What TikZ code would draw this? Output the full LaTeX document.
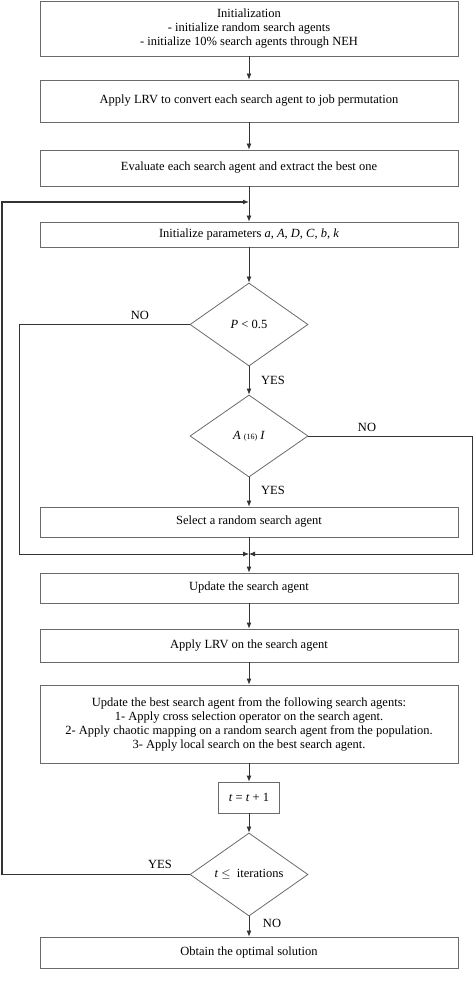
\documentclass[tikz,border=0pt]{standalone}
\usepackage{fontspec}
\setmainfont{Liberation Serif}
\usetikzlibrary{arrows.meta,shapes.geometric}
\definecolor{boxgray}{HTML}{6A6A6A}
\definecolor{linegray}{HTML}{333333}
\begin{document}
\begin{tikzpicture}[x=1pt,y=-1pt,
  box/.style={draw=boxgray, line width=0.8pt, minimum width=418pt, inner sep=0pt, align=center, font=\fontsize{12.5}{14}\selectfont},
  dia/.style={draw=boxgray, line width=0.8pt, diamond, minimum width=118pt, minimum height=83pt, inner sep=0pt, font=\fontsize{12.5}{14}\selectfont},
  conn/.style={draw=linegray, line width=0.8pt, -{Latex[length=6pt,width=5pt]}},
  plain/.style={draw=linegray, line width=0.8pt},
  lbl/.style={font=\fontsize{12.5}{14}\selectfont, inner sep=0pt}
]
\useasboundingbox (0,0) rectangle (474,984);
\node[box, minimum height=55pt] (b1) at (249,28.5) {Initialization\\- initialize random search agents\\- initialize 10\% search agents through NEH};
\node[box, minimum height=42pt] (b2) at (249,101) {Apply LRV to convert each search agent to job permutation};
\node[box, minimum height=36pt] (b3) at (249,168) {Evaluate each search agent and extract the best one};
\node[box, minimum height=25pt] (b4) at (249,234.5) {Initialize parameters \textit{a}, \textit{A}, \textit{D}, \textit{C}, \textit{b}, \textit{k}};
\node[dia] (d1) at (249,324.5) {\textit{P} < 0.5};
\node[dia, minimum height=82pt] (d2) at (249,436) {\textit{A} {\fontsize{8}{8}\selectfont(16)} \textit{I}};
\node[box, minimum height=30pt] (b5) at (249,522) {Select a random search agent};
\node[box, minimum height=30pt] (b6) at (249,588) {Update the search agent};
\node[box, minimum height=33pt] (b7) at (249,645.5) {Apply LRV on the search agent};
\node[box, minimum height=78pt] (b8) at (249,724) {Update the best search agent from the following search agents:\\1- Apply cross selection operator on the search agent.\\2- Apply chaotic mapping on a random search agent from the population.\\3- Apply local search on the best search agent.};
\node[box, minimum width=61pt, minimum height=31pt] (b9) at (249,797.5) {\textit{t} = \textit{t} + 1};
\node[dia] (d3) at (249,874.5) {\textit{t} $\leq$\ \ iterations};
\node[box, minimum height=31pt] (b10) at (249,952.5) {Obtain the optimal solution};
\coordinate (j1) at (249,202);
\coordinate (j2) at (249,554);
% main flow
\draw[conn] (b1) -- (b2);
\draw[conn] (b2) -- (b3);
\draw[conn] (b3) -- (b4);
\draw[conn] (b4) -- (d1);
\draw[conn] (d1) -- (d2);
\draw[conn] (d2) -- (b5);
\draw[plain] (b5) -- (j2);
\draw[conn] (j2) -- (b6);
\draw[conn] (b6) -- (b7);
\draw[conn] (b7) -- (b8);
\draw[conn] (b8) -- (b9);
\draw[conn] (b9) -- (d3);
\draw[conn] (d3) -- (b10);
% side branches
\draw[conn] (d1.west) -- (19,324.5) |- (j2);
\draw[conn] (d2.east) -- (472,436) |- (j2);
\draw[conn, line width=1.2pt] (d3.west) -- (2,874.5) |- (j1);
% labels
\node[lbl] (l1) at (140,315) {NO};
\node[lbl] (l2) at (273,380) {YES};
\node[lbl] (l3) at (367,427) {NO};
\node[lbl] (l4) at (273,490) {YES};
\node[lbl] (l5) at (160,864) {YES};
\node[lbl] (l6) at (272,923) {NO};
\end{tikzpicture}
\end{document}
